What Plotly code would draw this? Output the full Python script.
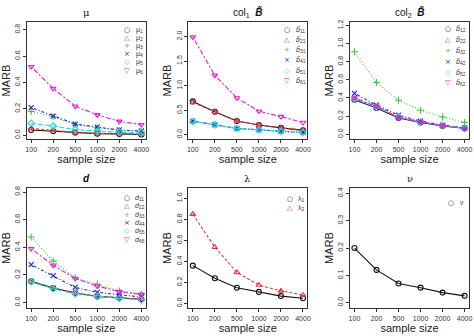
import plotly.graph_objects as go

# ---- data -----------------------------------------------------------------
sample_sizes = ["100", "200", "500", "1000", "2000", "4000"]

mu1 = [0.040, 0.030, 0.020, 0.012, 0.010, 0.006]
mu2 = [0.052, 0.036, 0.021, 0.013, 0.010, 0.008]
mu3 = [0.180, 0.140, 0.080, 0.058, 0.036, 0.030]
mu4 = [0.210, 0.145, 0.085, 0.062, 0.040, 0.032]
mu5 = [0.090, 0.070, 0.042, 0.030, 0.022, 0.018]
mu6 = [0.520, 0.355, 0.220, 0.155, 0.105, 0.080]

b11 = [0.68, 0.47, 0.28, 0.20, 0.14, 0.09]
b21 = [0.66, 0.47, 0.28, 0.20, 0.14, 0.10]
b31 = [0.27, 0.20, 0.12, 0.10, 0.06, 0.04]
b41 = [0.28, 0.20, 0.13, 0.10, 0.07, 0.05]
b51 = [0.27, 0.21, 0.13, 0.10, 0.07, 0.05]
b61 = [1.99, 1.21, 0.75, 0.48, 0.37, 0.25]

b12 = [0.38, 0.29, 0.180, 0.130, 0.090, 0.065]
b22 = [0.39, 0.30, 0.185, 0.135, 0.095, 0.065]
b32 = [0.91, 0.57, 0.375, 0.265, 0.190, 0.130]
b42 = [0.45, 0.32, 0.210, 0.145, 0.100, 0.070]
b52 = [0.39, 0.30, 0.190, 0.135, 0.095, 0.065]
b62 = [0.40, 0.31, 0.185, 0.135, 0.095, 0.060]

d11 = [0.155, 0.105, 0.070, 0.045, 0.035, 0.025]
d22 = [0.150, 0.105, 0.070, 0.045, 0.035, 0.025]
d33 = [0.475, 0.300, 0.180, 0.135, 0.085, 0.060]
d44 = [0.275, 0.195, 0.110, 0.075, 0.055, 0.040]
d55 = [0.150, 0.100, 0.065, 0.045, 0.030, 0.020]
d66 = [0.390, 0.270, 0.175, 0.120, 0.080, 0.060]

lambda1 = [0.36, 0.24, 0.150, 0.110, 0.070, 0.050]
lambda2 = [0.85, 0.535, 0.295, 0.175, 0.120, 0.080]

nu = [0.200, 0.120, 0.070, 0.055, 0.037, 0.025]

# ---- styling ---------------------------------------------------------------
W, H = 474, 336
colors = ["#111111", "#E2343C", "#3CC83C", "#2323C8", "#28D8E0", "#E020D8"]
dashes = ["solid", "3px,2px", "1px,2px", "1px,2px,3px,2px",
          "5px,2px", "2px,2px,5px,2px"]
symbols = ["circle-open", "triangle-up-open", "cross-thin-open",
           "x-thin-open", "diamond-open", "triangle-down-open"]
glyphs = ["○", "△", "+", "×", "◇", "▽"]

FONT = "Liberation Sans, Arial, sans-serif"

bt = "<i>b\u0303</i>"
panels = [
    dict(title="<span style='font-family:DejaVu Serif'>μ</span>",
         series=[mu1, mu2, mu3, mu4, mu5, mu6],
         labels=[f"μ<sub>{i}</sub>" for i in range(1, 7)],
         yticks=[0, 0.2, 0.4, 0.6, 0.8], yrange=[-0.03, 0.86],
         leg=(0.84, 0.905, 0.935, 0.07)),
    dict(title="col<sub>1</sub>  <b><i>B\u0303</i></b>",
         series=[b11, b21, b31, b41, b51, b61],
         labels=[f"{bt}<sub>{i}1</sub>" for i in range(1, 7)],
         yticks=[0, 0.5, 1.0, 1.5, 2.0], yrange=[-0.09, 2.30],
         leg=(0.83, 0.885, 0.935, 0.088)),
    dict(title="col<sub>2</sub>  <b><i>B\u0303</i></b>",
         series=[b12, b22, b32, b42, b52, b62],
         labels=[f"{bt}<sub>{i}2</sub>" for i in range(1, 7)],
         yticks=[0, 0.2, 0.4, 0.6, 0.8, 1.0, 1.2], yrange=[-0.055, 1.24],
         leg=(0.825, 0.875, 0.94, 0.093)),
    dict(title="<b><i>d</i></b>",
         series=[d11, d22, d33, d44, d55, d66],
         labels=[f"<i>d</i><sub>{i}{i}</sub>" for i in range(1, 7)],
         yticks=[0, 0.2, 0.4, 0.6, 0.8], yrange=[-0.04, 0.83],
         leg=(0.84, 0.895, 0.915, 0.069)),
    dict(title="<span style='font-family:DejaVu Serif'>λ</span>",
         series=[lambda1, lambda2],
         labels=["λ<sub>1</sub>", "λ<sub>2</sub>"],
         yticks=[0, 0.2, 0.4, 0.6, 0.8, 1.0], yrange=[-0.045, 1.10],
         leg=(0.85, 0.905, 0.91, 0.074)),
    dict(title="<span style='font-family:DejaVu Serif'>ν</span>",
         series=[nu],
         labels=["ν"],
         yticks=[0, 0.1, 0.2, 0.3, 0.4], yrange=[-0.02, 0.42],
         leg=(0.85, 0.91, 0.876, 0.07)),
]

# plot-box edges in pixels (left, right) per column and (top, bottom) per row
cols_px = [(26, 146), (189, 309), (352, 472)]
rows_px = [(20, 138), (187, 308)]

positions = list(range(1, len(sample_sizes) + 1))

fig = go.Figure()
annotations = []
layout = dict(
    width=W, height=H, margin=dict(l=0, r=0, t=0, b=0),
    paper_bgcolor="white", plot_bgcolor="white", showlegend=False,
    font=dict(family=FONT, color="#222222"),
)

for k, p in enumerate(panels, start=1):
    r, c = divmod(k - 1, 3)
    x0, x1 = cols_px[c]
    top, bot = rows_px[r]
    xs = "" if k == 1 else str(k)

    for i, ys in enumerate(p["series"]):
        fig.add_trace(go.Scatter(
            x=positions, y=ys, mode="lines+markers",
            xaxis="x" + xs, yaxis="y" + xs,
            line=dict(color=colors[i], dash=dashes[i], width=1.1),
            marker=dict(symbol=symbols[i], size=5, color=colors[i],
                        line=dict(width=1.1, color=colors[i])),
            name=p["labels"][i],
        ))

    axis_common = dict(showline=True, mirror=True, linecolor="#333333",
                       linewidth=1, showgrid=False, zeroline=False,
                       ticks="outside", ticklen=3, tickcolor="#333333",
                       tickfont=dict(size=7, family=FONT, color="#333333"))
    layout["xaxis" + xs] = dict(
        domain=[x0 / W, x1 / W], anchor="y" + xs, range=[0.8, 6.2],
        tickvals=positions, ticktext=sample_sizes,
        title=dict(text="sample size",
                   font=dict(size=11, family=FONT, color="#222222"),
                   standoff=3),
        **axis_common)
    layout["yaxis" + xs] = dict(
        domain=[1 - bot / H, 1 - top / H], anchor="x" + xs,
        range=p["yrange"], tickvals=p["yticks"], tickformat=".1f",
        tickangle=-90,
        title=dict(text="MARB",
                   font=dict(size=11, family=FONT, color="#222222"),
                   standoff=1),
        **axis_common)

    # panel title
    annotations.append(dict(
        text=p["title"], x=(x0 + x1) / 2 / W, y=1 - (top - 9) / H,
        xref="paper", yref="paper", showarrow=False,
        font=dict(size=10, family=FONT, color="#111111"),
        xanchor="center", yanchor="middle"))

    # legend: symbol glyph + label per series
    sx, tx, y0, dy = p["leg"]
    for i, lab in enumerate(p["labels"]):
        yy = y0 - i * dy
        annotations.append(dict(
            text=glyphs[i], x=sx, y=yy, xref=f"x{xs} domain",
            yref=f"y{xs} domain", showarrow=False, xanchor="center",
            yanchor="middle",
            font=dict(size=7, family="DejaVu Sans", color=colors[i])))
        annotations.append(dict(
            text=lab, x=tx, y=yy, xref=f"x{xs} domain",
            yref=f"y{xs} domain", showarrow=False, xanchor="left",
            yanchor="middle",
            font=dict(size=7, family=FONT, color="#333333")))

layout["annotations"] = annotations
fig.update_layout(**layout)
fig.write_html("out.html")
